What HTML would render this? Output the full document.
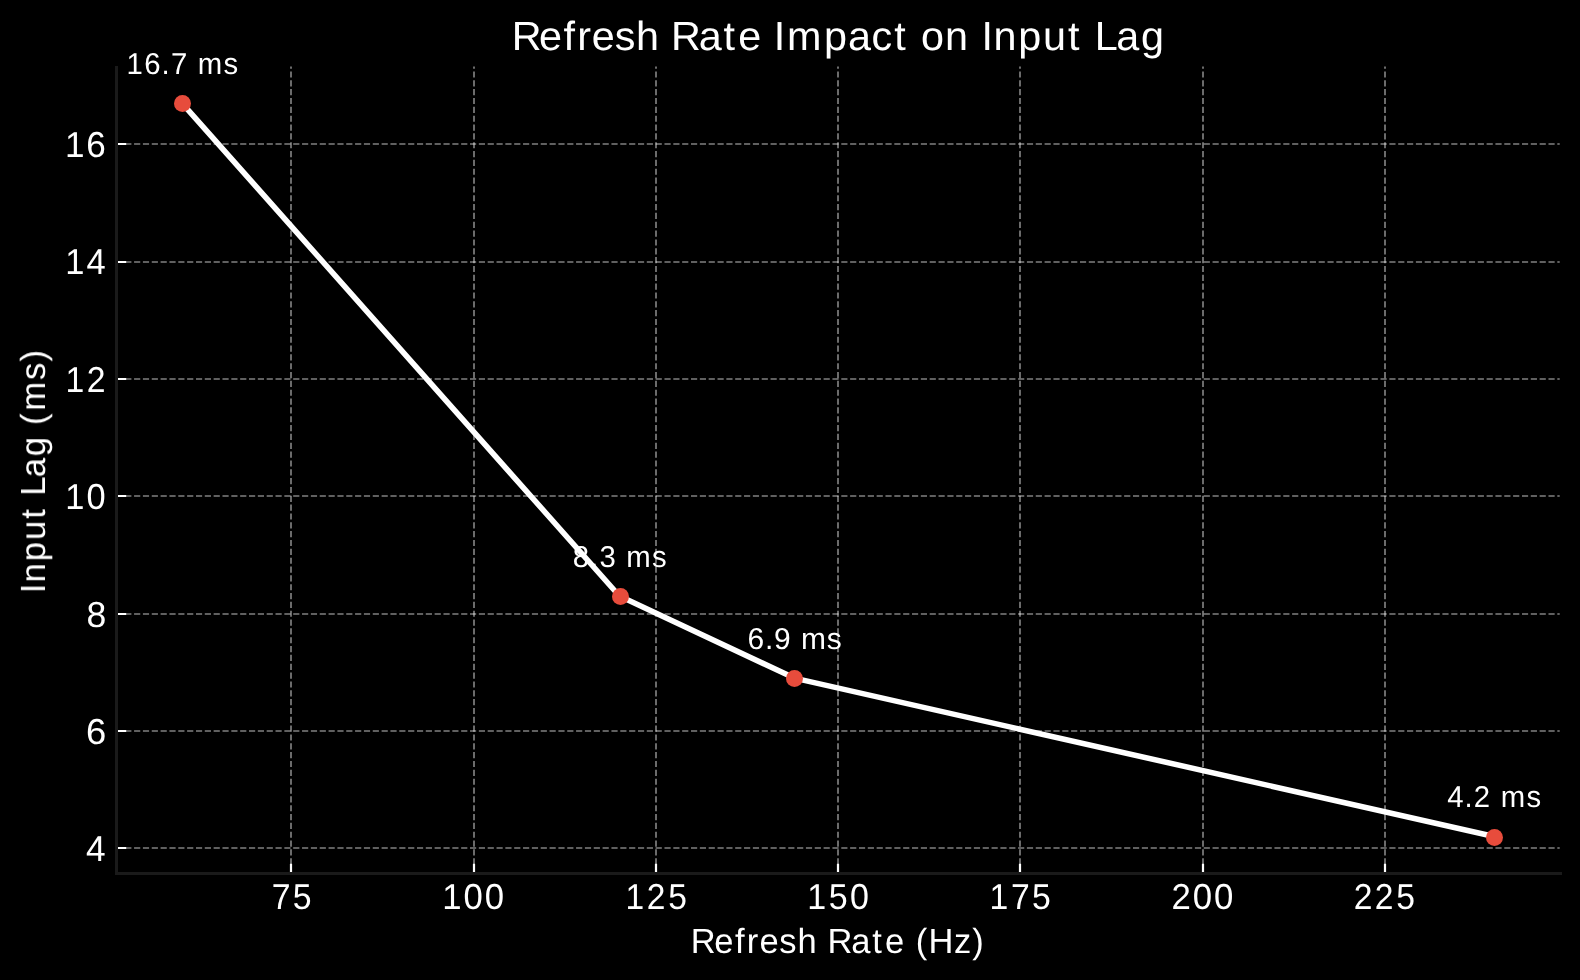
<!DOCTYPE html>
<html lang="en">
<head>
<meta charset="utf-8">
<title>Refresh Rate Impact on Input Lag</title>
<style>
html,body{margin:0;padding:0;background:#000;}
body{width:1580px;height:980px;overflow:hidden;}
svg{display:block;}
text{font-family:"Liberation Sans",sans-serif;fill:#fff;text-rendering:geometricPrecision;}
.labels{mix-blend-mode:lighten;}
</style>
</head>
<body>
<svg width="1580" height="980" viewBox="0 0 1580 980">
<rect width="1580" height="980" fill="#000"/>
<!-- grid -->
<g fill="none" stroke="#fff" stroke-opacity="0.5" stroke-width="1.67" stroke-dasharray="6.17 2.67">
<path d="M291 873.2 V66.4M474 873.2 V66.4M656 873.2 V66.4M838 873.2 V66.4M1020 873.2 V66.4M1203 873.2 V66.4M1385 873.2 V66.4"/>
<path d="M116.4 848 H1559.7M116.4 731 H1559.7M116.4 614 H1559.7M116.4 496 H1559.7M116.4 379 H1559.7M116.4 262 H1559.7M116.4 144 H1559.7"/>
</g>
<!-- data line -->
<polyline points="182,103.1 619.4,596 794.3,678.1 1494.1,836.5" fill="none" stroke="#fff" stroke-width="5.56" stroke-linejoin="round" stroke-linecap="butt"/>
<!-- tick marks -->
<path d="M291 873.2 v-9.5M474 873.2 v-9.5M656 873.2 v-9.5M838 873.2 v-9.5M1020 873.2 v-9.5M1203 873.2 v-9.5M1385 873.2 v-9.5M116.4 848 h9.8M116.4 731 h9.8M116.4 614 h9.8M116.4 496 h9.8M116.4 379 h9.8M116.4 262 h9.8M116.4 144 h9.8" fill="none" stroke="#fff" stroke-width="2.2"/>
<!-- spines -->
<path d="M116.5 66 V875 M115 873.5 H1562" fill="none" stroke="#1a1a1a" stroke-width="3"/>
<!-- markers -->
<g fill="#e74c3c">
<circle cx="182.5" cy="103.5" r="8.5"/>
<circle cx="620.5" cy="596.5" r="8.5"/>
<circle cx="794.5" cy="678.5" r="8.5"/>
<circle cx="1494.5" cy="837.5" r="8.5"/>
</g>
<g class="labels">
<!-- title -->
<g>
<text transform="translate(0,50) scale(1.0179,1)" font-size="40.64" x="502.8 529.65 553.51 567.14 581.43 603.96 624.86 648.38 659.14 686.46 710.79 725.23 748.08 760.21 773.05 809.51 833.19 856.09 878.52 892.31 904.84 928.51 952.02 964.15 976.12 1000.45 1024.78 1049.27 1063.06 1075.49 1096.74 1120.82" y="0">Refresh Rate Impact on Input Lag</text>
</g>
<!-- x axis label -->
<g>
<text transform="translate(0,953) scale(0.9858,1)" font-size="35" x="700.77 724.49 745.53 757.61 770.4 790.36 808.88 829.5 839.36 863.53 884.95 897.87 917.87 929.03 941.91 967.69 986.2" y="0">Refresh Rate (Hz)</text>
</g>
<!-- y axis label -->
<g>
<text transform="translate(45,593.28) rotate(-90) scale(0.9929,1)" font-size="35" x="0.09 10.72 32.12 53.54 75 87.04 98.12 116.89 138.08 158.38 169.43 183.85 214.82 233.52" y="0">Input Lag (ms)</text>
</g>
<!-- x tick labels -->
<g>
<text transform="translate(0,909) scale(0.9383,1)" font-size="36" x="289.58 312" y="0">75</text>
<text transform="translate(0,909) scale(0.9637,1)" font-size="36" x="458.82 480.97 503.01" y="0">100</text>
<text transform="translate(0,909) scale(0.9318,1)" font-size="36" x="671.28 694.09 717.06" y="0">125</text>
<text transform="translate(0,909) scale(0.9445,1)" font-size="36" x="854.82 877.5 899.92" y="0">150</text>
<text transform="translate(0,909) scale(0.9368,1)" font-size="36" x="1056.15 1079.23 1101.68" y="0">175</text>
<text transform="translate(0,909) scale(0.9656,1)" font-size="36" x="1213.15 1235.25 1257.25" y="0">200</text>
<text transform="translate(0,909) scale(0.9342,1)" font-size="36" x="1448.99 1471.71 1494.62" y="0">225</text>
</g>
<!-- y tick labels -->
<g>
<text transform="translate(0,861) scale(0.9776,1)" font-size="36" x="88.04" y="0">4</text>
<text transform="translate(0,744) scale(1.0122,1)" font-size="36" x="84.98" y="0">6</text>
<text transform="translate(0,627) scale(0.9880,1)" font-size="36" x="87.49" y="0">8</text>
<text transform="translate(0,509) scale(0.9565,1)" font-size="36" x="68.19 90.52" y="0">10</text>
<text transform="translate(0,392) scale(0.9373,1)" font-size="36" x="69.79 92.46" y="0">12</text>
<text transform="translate(0,274) scale(0.9573,1)" font-size="36" x="68.13 90.33" y="0">14</text>
<text transform="translate(0,157) scale(0.9742,1)" font-size="36" x="66.77 88.56" y="0">16</text>
</g>
<!-- point annotations -->
<g>
<text transform="translate(0,74) scale(0.9737,1)" font-size="30.14" x="129.95 148.07 165.96 175.58 192.82 203.14 229.46" y="0">16.7 ms</text>
<text transform="translate(0,567) scale(0.9738,1)" font-size="30.14" x="588.2 605.98 615.65 632.84 643.15 669.47" y="0">8.3 ms</text>
<text transform="translate(0,649) scale(0.9940,1)" font-size="30.14" x="751.99 769.59 778.76 795.98 805.83 831.72" y="0">6.9 ms</text>
<text transform="translate(0,807) scale(0.9725,1)" font-size="30.14" x="1488.08 1505.97 1515.31 1532.86 1543.2 1569.55" y="0">4.2 ms</text>
</g>
</g>
</svg>
</body>
</html>
